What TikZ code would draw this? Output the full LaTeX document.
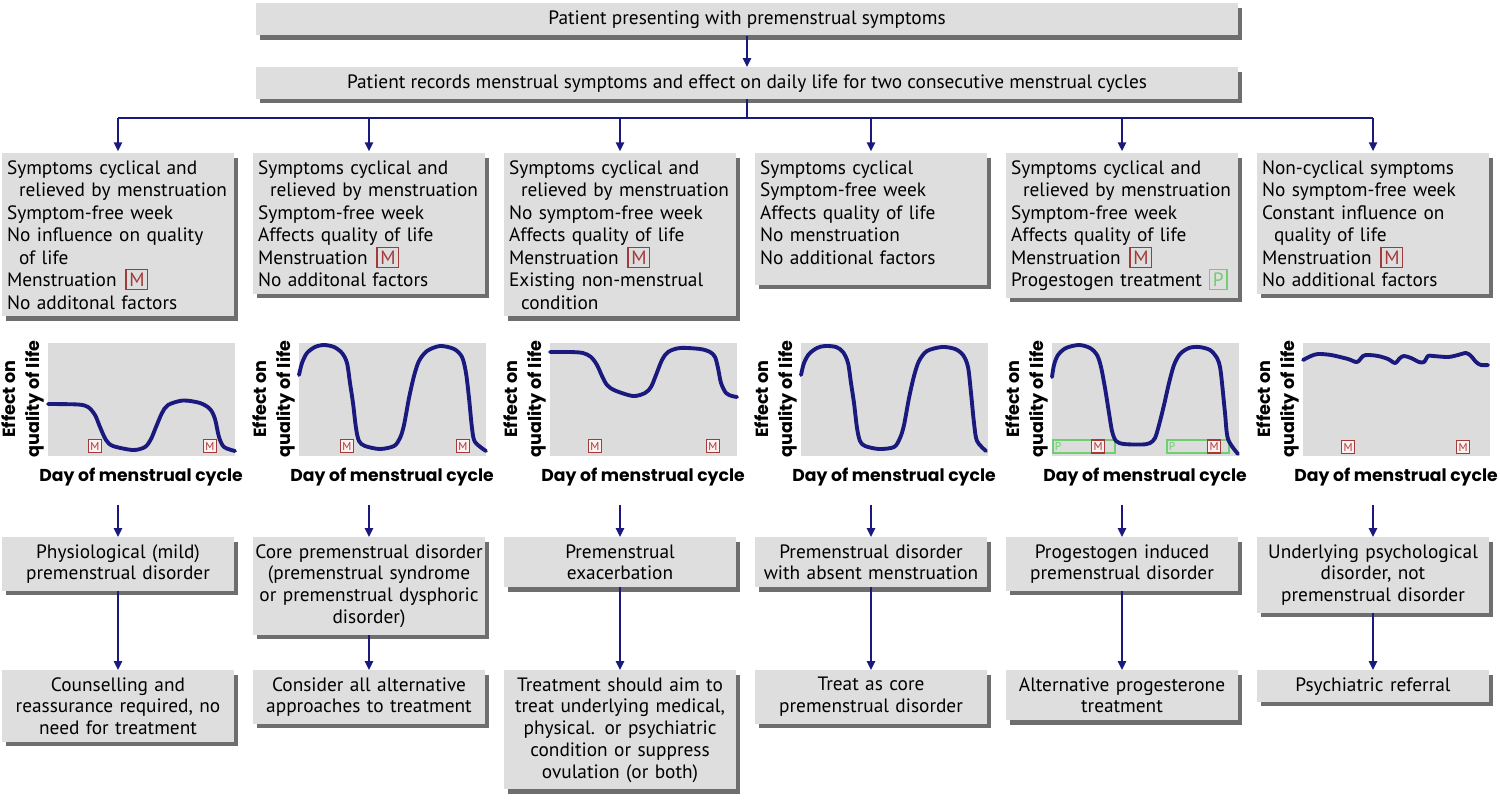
\documentclass[tikz,border=0pt]{standalone}
\usepackage{fontspec}
\setmainfont{PT Sans}
\newfontfamily\graphfont{Poppins}
\usetikzlibrary{arrows.meta,shadows}

\definecolor{boxgray}{HTML}{DEDEDE}
\definecolor{plotgray}{HTML}{DCDCDC}
\definecolor{navy}{HTML}{1A1A7E}
\definecolor{mred}{HTML}{A33A3A}
\definecolor{pgreen}{HTML}{6FCF6F}
\definecolor{shade}{HTML}{6E6E6E}

\setlength{\fboxsep}{1.5pt}
\setlength{\fboxrule}{0.7pt}
\newcommand{\mtag}{\fcolorbox{mred}{boxgray}{\textcolor{mred}{M}}}
\newcommand{\ptag}{\fcolorbox{pgreen}{boxgray}{\textcolor{pgreen}{P}}}
\newcommand{\nohyph}{\hyphenpenalty 10000\relax}

\tikzset{
  shadowed/.style={drop shadow={shadow xshift=2.5pt, shadow yshift=-2.5pt, fill=shade, opacity=1}},
  wide/.style={shadowed, fill=boxgray, anchor=north, minimum width=19.64cm, inner ysep=4pt, font=\fontsize{11}{13}\selectfont},
  sympbox/.style={shadowed, fill=boxgray, anchor=north, text width=4.44cm, inner xsep=0.1cm, inner ysep=4pt, align=left, font=\fontsize{11}{12.8}\selectfont\nohyph},
  diagbox/.style={sympbox, text width=4.56cm, inner xsep=0.04cm, align=center, font=\fontsize{11}{12.4}\selectfont\nohyph},
  plotbg/.style={fill=plotgray, anchor=north west, minimum width=3.74cm, minimum height=2.26cm, inner sep=0pt},
  ylab/.style={rotate=90, align=center, font=\graphfont\bfseries\fontsize{10}{14}\selectfont},
  xlab/.style={font=\graphfont\bfseries\fontsize{9.8}{12}\selectfont},
  curve/.style={navy, line width=2.2pt, line cap=round, line join=round},
  arr/.style={navy, line width=1.2pt, -{Triangle[length=5pt,width=4.5pt]}},
  link/.style={navy, line width=1.2pt},
  mmark/.style={draw=mred, fill=red!6, text=mred, line width=0.6pt, inner sep=0pt, minimum size=7.4pt, font=\fontsize{6.5}{6.5}\selectfont},
  pmark/.style={text=pgreen, inner sep=0pt, font=\fontsize{6.5}{6.5}\selectfont},
  pbar/.style={draw=pgreen, line width=0.7pt},
}

\begin{document}
\begin{tikzpicture}[x=0.02cm, y=-0.02cm]
    \useasboundingbox (0,0) rectangle (1500,801);

    \node[wide] (top) at (747,3) {Patient presenting with premenstrual symptoms};
    \node[wide] (rec) at (747,67) {Patient records menstrual symptoms and effect on daily life for two consecutive menstrual cycles};
    \coordinate (hub) at (747,118);

    % column 1
    \begin{scope}[shift={(118,0)}]
      \node[sympbox] (s1) at (0,153) {Symptoms cyclical and\\\hspace*{0.24cm}relieved by menstruation\\Symptom-free week\\No influence on quality\\\hspace*{0.24cm}of life\\Menstruation\hspace{5pt}\mtag\\No additonal factors};
      \node[plotbg] (g1) at (-70,343) {};
      \node[ylab] (y1) at (-95,399) {Effect on\\quality of life};
      \node[xlab] (x1) at (23,477) {Day of menstrual cycle};
      \begin{scope}[shift={(-70,343)}]
        \draw[curve] plot[smooth, tension=0.5] coordinates {(0,61) (30,61.5) (40,64) (47,72) (52,84) (58,97) (65,103) (85,107) (97,104) (103,96) (108,84) (114,70) (120,62) (135,57.5) (152,60) (162,66) (167,76) (171,94) (176,104) (187,108)};
        \node[mmark] (m1a) at (47,103) {M};
        \node[mmark] (m1b) at (162,103) {M};
      \end{scope}
      \node[diagbox] (d1) at (0,537) {Physiological (mild)\\premenstrual disorder};
      \node[diagbox] (t1) at (0,670) {Counselling and\\reassurance required, no\\need for treatment};
    \end{scope}

    % column 2
    \begin{scope}[shift={(369,0)}]
      \node[sympbox] (s2) at (0,153) {Symptoms cyclical and\\\hspace*{0.24cm}relieved by menstruation\\Symptom-free week\\Affects quality of life\\Menstruation\hspace{5pt}\mtag\\No additonal factors};
      \node[plotbg] (g2) at (-70,343) {};
      \node[ylab] (y2) at (-95,399) {Effect on\\quality of life};
      \node[xlab] (x2) at (23,477) {Day of menstrual cycle};
      \begin{scope}[shift={(-70,343)}]
        \draw[curve] plot[smooth, tension=0.5] coordinates {(0,32) (3,20) (8,10) (16,4) (25,2) (35,4) (43,10) (48,20) (51,40) (54,60) (57,85) (60,98) (66,103) (81,106) (95,103) (101,95) (105,82) (110,55) (115,33) (120,18) (128,8) (141,3) (155,6) (163,14) (167,30) (170,55) (173,85) (176,99) (187,108)};
        \node[mmark] (m2a) at (48,103) {M};
        \node[mmark] (m2b) at (164,103) {M};
      \end{scope}
      \node[diagbox] (d2) at (0,537) {Core premenstrual disorder\\(premenstrual syndrome\\or premenstrual dysphoric\\disorder)};
      \node[diagbox] (t2) at (0,670) {Consider all alternative\\approaches to treatment};
    \end{scope}

    % column 3
    \begin{scope}[shift={(620,0)}]
      \node[sympbox] (s3) at (0,153) {Symptoms cyclical and\\\hspace*{0.24cm}relieved by menstruation\\No symptom-free week\\Affects quality of life\\Menstruation\hspace{5pt}\mtag\\Existing non-menstrual\\\hspace*{0.24cm}condition};
      \node[plotbg] (g3) at (-70,343) {};
      \node[ylab] (y3) at (-95,399) {Effect on\\quality of life};
      \node[xlab] (x3) at (23,477) {Day of menstrual cycle};
      \begin{scope}[shift={(-70,343)}]
        \draw[curve] plot[smooth, tension=0.5] coordinates {(0,9) (20,9) (33,10) (41,14) (47,22) (52,33) (57,42) (65,47.5) (83,53) (95,50) (101,44) (106,32) (112,17) (118,9) (130,5) (150,6) (160,9) (165,14) (168,25) (171,40) (176,50) (182,53) (187,54)};
        \node[mmark] (m3a) at (45,103) {M};
        \node[mmark] (m3b) at (163,103) {M};
      \end{scope}
      \node[diagbox] (d3) at (0,537) {Premenstrual\\exacerbation};
      \node[diagbox] (t3) at (0,670) {Treatment should aim to\\treat underlying medical,\\physical. or psychiatric\\condition or suppress\\ovulation (or both)};
    \end{scope}

    % column 4
    \begin{scope}[shift={(871,0)}]
      \node[sympbox] (s4) at (0,153) {Symptoms cyclical\\Symptom-free week\\Affects quality of life\\No menstruation\\No additional factors\\[-5pt]\mbox{}};
      \node[plotbg] (g4) at (-70,343) {};
      \node[ylab] (y4) at (-95,399) {Effect on\\quality of life};
      \node[xlab] (x4) at (23,477) {Day of menstrual cycle};
      \begin{scope}[shift={(-70,343)}]
        \draw[curve] plot[smooth, tension=0.5] coordinates {(0,32) (3,20) (8,11) (16,5) (24,3) (35,4) (42,9) (47,20) (50,40) (53,60) (56,85) (59,98) (64,103) (78,106) (93,104) (99,95) (103,82) (108,55) (113,33) (118,18) (126,8) (141,4) (154,6) (162,12) (167,24) (170,50) (173,80) (176,98) (185,108)};
      \end{scope}
      \node[diagbox] (d4) at (0,537) {Premenstrual disorder\\with absent menstruation};
      \node[diagbox] (t4) at (0,670) {Treat as core\\premenstrual disorder};
    \end{scope}

    % column 5
    \begin{scope}[shift={(1122,0)}]
      \node[sympbox] (s5) at (0,153) {Symptoms cyclical and\\\hspace*{0.24cm}relieved by menstruation\\Symptom-free week\\Affects quality of life\\Menstruation\hspace{5pt}\mtag\\Progestogen treatment\hspace{4pt}\ptag};
      \node[plotbg] (g5) at (-70,343) {};
      \node[ylab] (y5) at (-95,399) {Effect on\\quality of life};
      \node[xlab] (x5) at (23,477) {Day of menstrual cycle};
      \begin{scope}[shift={(-70,343)}]
        \draw[pbar] (1,97) rectangle (63,110);
        \draw[pbar] (115,97) rectangle (177,110);
        \node[pmark] (p5a) at (6,103.5) {P};
        \node[pmark] (p5b) at (120,103.5) {P};
        \draw[curve] plot[smooth, tension=0.5] coordinates {(0,34) (2,22) (6,12) (14,5) (27,2) (38,5) (45,12) (49,24) (53,45) (57,70) (60,88) (64,98) (72,101) (90,101.5) (98,100) (103,95) (107,82) (112,62) (117,40) (122,22) (128,11) (137,5) (147,4) (158,7) (165,15) (168,24) (170,40) (173,70) (176,96) (186,111)};
        \node[mmark] (m5a) at (46,103.5) {M};
        \node[mmark] (m5b) at (162,103.5) {M};
      \end{scope}
      \node[diagbox] (d5) at (0,537) {Progestogen induced\\premenstrual disorder};
      \node[diagbox] (t5) at (0,670) {Alternative progesterone\\treatment};
    \end{scope}

    % column 6
    \begin{scope}[shift={(1373,0)}]
      \node[sympbox] (s6) at (0,153) {Non-cyclical symptoms\\No symptom-free week\\Constant influence on\\\hspace*{0.24cm}quality of life\\Menstruation\hspace{5pt}\mtag\\No additional factors};
      \node[plotbg] (g6) at (-70,343) {};
      \node[ylab] (y6) at (-95,399) {Effect on\\quality of life};
      \node[xlab] (x6) at (23,477) {Day of menstrual cycle};
      \begin{scope}[shift={(-70,343)}]
        \draw[curve] plot[smooth, tension=0.5] coordinates {(0,17) (8,13) (15,11) (28,12) (45,16) (54,19) (60,13) (65,12) (75,13) (85,16) (92,20) (97,15) (101,13) (108,15) (116,19) (121,19) (125,13) (130,13) (145,14) (155,12) (163,10) (168,13) (173,19) (178,22) (185,22)};
        \node[mmark] (m6a) at (45,104) {M};
        \node[mmark] (m6b) at (160,104) {M};
      \end{scope}
      \node[diagbox] (d6) at (0,537) {Underlying psychological\\disorder, not\\premenstrual disorder};
      \node[diagbox] (t6) at (0,670) {Psychiatric referral};
    \end{scope}

    % connectors
    \draw[arr] (top.south) -- (rec.north);
    \draw[link] (rec.south) -- (hub);
    \draw[link] (hub -| s1.north) -- (hub -| s6.north);
    \foreach \i in {1,...,6} {
      \draw[arr, shorten >=1pt] (hub -| s\i.north) -- (s\i.north);
      \draw[arr, shorten <=7pt] (x\i.south -| d\i.north) -- (d\i.north);
      \draw[arr] (d\i.south) -- (t\i.north);
    }
\end{tikzpicture}
\end{document}
